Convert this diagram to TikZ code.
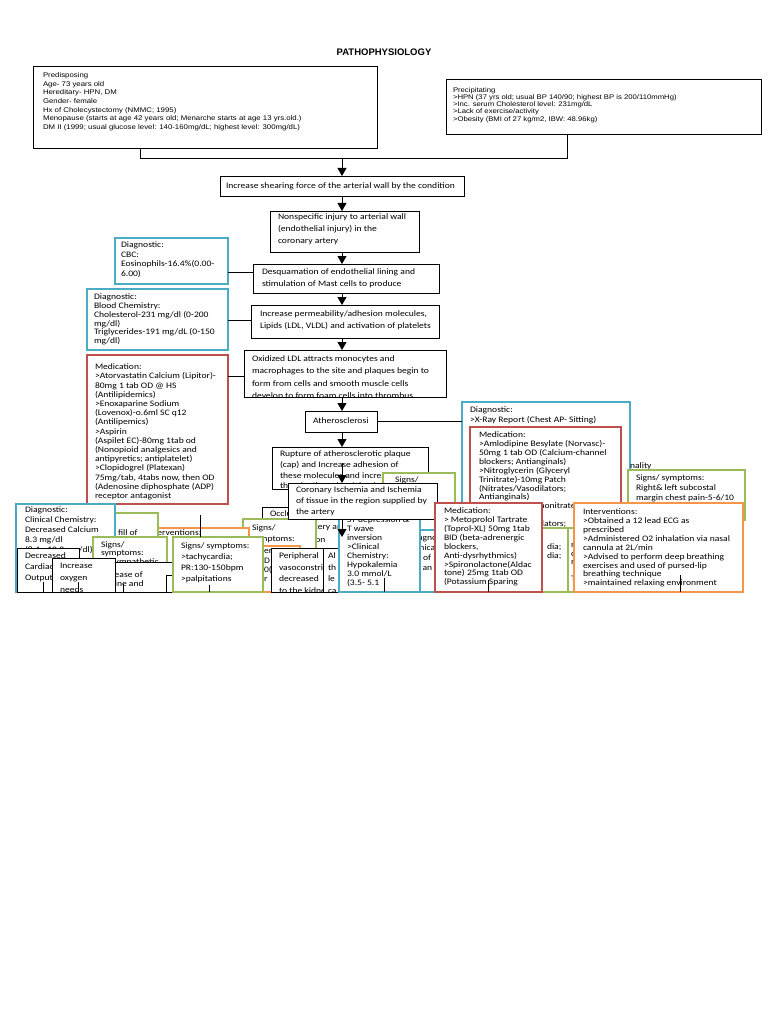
\documentclass[tikz,border=0pt]{standalone}
\usepackage{fontspec}
\setmainfont{Carlito}
\newfontfamily\cf{Carlito}[FakeStretch=1.14]
\newfontfamily\lf{Liberation Sans}[FakeStretch=1.15]
\newfontfamily\lfb{Liberation Sans}
\usetikzlibrary{arrows.meta}
\definecolor{cyb}{HTML}{4BACC6}
\definecolor{rdb}{HTML}{C0504D}
\definecolor{grb}{HTML}{9BBB59}
\definecolor{orb}{HTML}{F79646}
\newcommand\fs[2]{\cf\fontsize{#1}{#2}\selectfont}
\newcommand\lfs[2]{\lf\fontsize{#1}{#2}\selectfont}
\tikzset{
  bk/.style={draw=black, line width=0.9pt},
  cy/.style={draw=cyb, line width=2.6pt},
  rd/.style={draw=rdb, line width=2.8pt},
  gr/.style={draw=grb, line width=2.8pt},
  og/.style={draw=orb, line width=2.8pt},
  tx/.style={anchor=north west, inner sep=0pt, outer sep=0pt, align=left, font=\fs{8.4}{9}},
  conn/.style={draw=black, line width=0.8pt},
  arr/.style={conn, -{Triangle[length=8pt,width=9pt]}},
}
% name, x1, y1, x2, y2, border style, text options, text
\newcommand\mybox[8]{%
  \node[fill=white, draw=none, anchor=north west, inner sep=0pt, outer sep=0pt,
        minimum width={(#4-#2)*1pt}, minimum height={(#5-#3)*1pt}] (#1) at (#2,#3) {};
  \begin{scope}
    \clip (#1.north west) rectangle (#1.south east);
    \node[tx, #7] at (#1.north west) {#8};
  \end{scope}
  \draw[#6] (#1.north west) rectangle (#1.south east);
}
\begin{document}
\begin{tikzpicture}[x=1pt,y=-1pt]
\fill[white] (0,0) rectangle (768,1024);
\useasboundingbox (0,0) rectangle (768,1024);
\node[font=\lfb\bfseries\fontsize{9.5}{11}\selectfont] (title) at (384,52) {PATHOPHYSIOLOGY};

\mybox{pre}{33}{66}{377}{148}{bk}{xshift=10pt,yshift=-6.4pt,font=\lfs{6.8}{8.7}}{Predisposing\\Age- 73 years old\\Hereditary- HPN, DM\\Gender- female\\Hx of Cholecystectomy (NMMC; 1995)\\Menopause (starts at age 42 years old; Menarche starts at age 13 yrs.old.)\\DM II (1999; usual glucose level: 140-160mg/dL; highest level: 300mg/dL)}
\mybox{prec}{446}{79}{761}{134}{bk}{xshift=7pt,yshift=-8.4pt,font=\lfs{6.7}{7.2}}{Precipitating\\>HPN (37 yrs old; usual BP 140/90; highest BP is 200/110mmHg)\\>Inc. serum Cholesterol level: 231mg/dL\\>Lack of exercise/activity\\>Obesity (BMI of 27 kg/m2, IBW: 48.96kg)}

\coordinate (ax) at (342,0);
\coordinate (jn) at (342,158);
\draw[conn] ([xshift=107pt]pre.south west) |- (jn);
\draw[conn] ([xshift=121pt]prec.south west) |- (jn);

\mybox{shear}{220}{176}{464}{196}{bk}{xshift=6pt,yshift=-6.8pt}{Increase shearing force of the arterial wall by the condition}
\draw[arr] (jn) -- (shear.north -| ax);

\mybox{nonspec}{270}{211}{419}{252}{bk}{xshift=8pt,yshift=-2.8pt,font=\fs{8.4}{12}}{Nonspecific injury to arterial wall\\(endothelial injury) in the\\coronary artery}
\draw[arr] (shear.south -| ax) -- (nonspec.north -| ax);

\mybox{desq}{253}{264}{439}{293}{bk}{xshift=9pt,yshift=-4.8pt,font=\fs{8.4}{11.5}}{Desquamation of endothelial lining and\\stimulation of Mast cells to produce}
\draw[arr] (nonspec.south -| ax) -- (desq.north -| ax);

\mybox{cbc}{115}{238}{228}{284}{cy}{xshift=6pt,yshift=-3.8pt,font=\fs{8.4}{9.5}}{Diagnostic:\\CBC:\\Eosinophils-16.4\%(0.00-\\6.00)}
\coordinate (c1) at ([yshift=-34pt]cbc.north east);
\draw[conn] (c1) -- (c1 -| desq.west);

\mybox{perm}{251}{305}{439}{338}{bk}{xshift=9pt,yshift=-5.8pt,font=\fs{8.4}{12}}{Increase permeability/adhesion molecules,\\Lipids (LDL, VLDL) and activation of platelets}
\draw[arr] (desq.south -| ax) -- (perm.north -| ax);

\mybox{blood}{87}{289}{228}{350}{cy}{xshift=7pt,yshift=-4.8pt,font=\fs{8.4}{8.8}}{Diagnostic:\\Blood Chemistry:\\Cholesterol-231 mg/dl (0-200\\mg/dl)\\Triglycerides-191 mg/dL (0-150\\mg/dl)}
\coordinate (c2) at ([yshift=-31pt]blood.north east);
\draw[conn] (c2) -- (c2 -| perm.west);

\mybox{ox}{244}{350}{446}{397}{bk}{xshift=8pt,yshift=-5.8pt,font=\fs{8.4}{12.3}}{Oxidized LDL attracts monocytes and\\macrophages to the site and plaques begin to\\form from cells and smooth muscle cells\\develop to form foam cells into thrombus}
\draw[arr] (perm.south -| ax) -- (ox.north -| ax);

\mybox{medone}{87}{355}{228}{504}{rd}{xshift=8pt,yshift=-8.8pt,font=\fs{8.4}{9.2}}{Medication:\\>Atorvastatin Calcium (Lipitor)-\\80mg 1 tab OD @ HS\\(Antilipidemics)\\>Enoxaparine Sodium\\(Lovenox)-o.6ml SC q12\\(Antilipemics)\\>Aspirin\\(Aspilet EC)-80mg 1tab od\\(Nonopioid analgesics and\\antipyretics; antiplatelet)\\>Clopidogrel (Platexan)\\75mg/tab, 4tabs now, then OD\\(Adenosine diphosphate (ADP)\\receptor antagonist}
\coordinate (c3) at ([yshift=-21pt]medone.north east);
\draw[conn] (c3) -- (c3 -| ox.west);

\mybox{ather}{305}{411}{377}{432}{bk}{xshift=8pt,yshift=-6.8pt}{Atherosclerosi}
\draw[arr] (ox.south -| ax) -- (ather.north -| ax);

\mybox{xray}{462}{402}{630}{530}{cy}{xshift=8pt,yshift=-4.8pt,font=\fs{8.4}{9.5}}{Diagnostic:\\>X-Ray Report (Chest AP- Sitting)}
\node[tx] (xraytail) at (630,462.8) {nality};
\draw[conn] (ather.east) -- (ather.east -| xray.west);

\mybox{amlo}{470}{427}{621}{545}{rd}{xshift=9pt,yshift=-4.8pt,font=\fs{8.4}{8.9}}{Medication:\\>Amlodipine Besylate (Norvasc)-\\50mg 1 tab OD (Calcium-channel\\blockers; Antianginals)\\>Nitroglycerin (Glyceryl\\Trinitrate)-10mg Patch\\(Nitrates/Vasodilators;\\Antianginals)\\>Isosorbide Mononitrate\\\mbox{}\\(Nitrates/Vasodilators;}

\mybox{gfive}{628}{470}{745}{520}{gr}{xshift=8pt,yshift=-4.8pt,font=\fs{8.4}{9.8}}{Signs/ symptoms:\\Right\& left subcostal\\margin chest pain-5-6/10}

\mybox{rupture}{272}{447}{428}{489}{bk}{xshift=8pt,yshift=-3.8pt,font=\fs{8.4}{10.7}}{Rupture of atherosclerotic plaque\\(cap) and Increase adhesion of\\these molecules and increase\\thereby thrombus/platelet formation}
\draw[arr] (ather.south -| ax) -- (rupture.north -| ax);

\mybox{gsign}{383}{473}{455}{533}{gr}{xshift=12pt,yshift=-3.8pt}{Signs/}

\mybox{occl}{262}{507}{360}{560}{bk}{xshift=8pt,yshift=-3.8pt,font=\fs{8.4}{13}}{Occlusion of the\\coronary artery and\\clot formation}

\mybox{gsigntwo}{243}{519}{316}{592}{gr}{xshift=9pt,yshift=-5.8pt,font=\fs{8.4}{11}}{Signs/\\symptoms:}

\mybox{orangetwo}{138}{528}{249}{592}{og}{xshift=9pt,yshift=-1.8pt}{Interventions:}

\mybox{gfill}{60}{513}{158}{592}{gr}{xshift=58pt,yshift=-16.8pt}{fill of}

\mybox{cyancc}{16}{504}{115}{592}{cy}{xshift=9pt,yshift=-2.8pt,font=\fs{8.4}{10}}{Diagnostic:\\Clinical Chemistry:\\Decreased Calcium\\8.3 mg/dl\\(8.4 - 10.2 mg/dl)}

\mybox{gsix}{93}{537}{167}{592}{gr}{xshift=8pt,yshift=-4.8pt,font=\fs{8.4}{8.3}}{Signs/\\symptoms:\\of sympathetic}

\mybox{bkdco}{17}{548}{79}{592}{bk}{xshift=8pt,yshift=-4.8pt,font=\fs{8.4}{11}}{Decreased\\Cardiac\\Output}

\mybox{bkease}{95}{562}{173}{592}{bk}{xshift=5pt,yshift=-9.8pt,font=\fs{8.4}{9}}{Increase of\\\hphantom{Incr}ine and}

\mybox{bkoxy}{52}{558}{115}{592}{bk}{xshift=8pt,yshift=-4.8pt,font=\fs{8.4}{12}}{Increase\\oxygen\\needs}

\mybox{small}{166}{575}{182}{592}{bk}{}{}

\mybox{orangethree}{250}{546}{300}{592}{og}{xshift=14pt,yshift=-3.8pt,font=\fs{8.4}{9.3}}{er\\D\\0(\\r}

\mybox{gtachy}{173}{537}{263}{592}{gr}{xshift=8pt,yshift=-5.8pt,font=\fs{8.4}{11}}{Signs/ symptoms:\\>tachycardia;\\PR:130-150bpm\\>palpitations}

\mybox{bkperi}{271}{548}{323}{592}{bk}{xshift=8pt,yshift=-4.8pt,font=\fs{8.4}{11.5}}{Peripheral\\vasoconstriction\\decreased\\to the kidney}

\mybox{bkalt}{323}{548}{380}{592}{bk}{xshift=5pt,yshift=-4.8pt,font=\fs{8.4}{11.5}}{Al\\th\\le\\ca}

\mybox{cyantwo}{405}{530}{470}{592}{cy}{xshift=5pt,yshift=-4.8pt,font=\fs{8.4}{9.8}}{Diagnostic:\\Clinical\\\hphantom{Lev}of\\\hphantom{Ion}an}

\mybox{ST}{339}{508}{420}{592}{cy}{xshift=8pt,yshift=-8.8pt,font=\fs{8.4}{9}}{ST-depression \&\\T wave\\inversion\\>Clinical\\Chemistry:\\Hypokalemia\\3.0 mmol/L\\(3.5- 5.1}

\mybox{coronary}{288}{483}{437}{519}{bk}{xshift=8pt,yshift=-3.8pt,font=\fs{8.4}{11}}{Coronary Ischemia and Ischemia\\of tissue in the region supplied by\\the artery}

\coordinate (r0) at (rupture.north -| ax);
\draw[arr] ([yshift=-16pt]r0) -- (coronary.north -| ax);
\draw[arr] (coronary.south -| ax) -- ++(0,18);

\mybox{gthree}{500}{528}{568}{592}{gr}{xshift=47pt,yshift=-15.8pt,font=\fs{8.4}{8.5}}{dia;\\dia;}
\mybox{gfour}{568}{528}{610}{592}{gr}{xshift=3pt,yshift=-15.8pt,font=\fs{8.4}{8.3}}{n\\c:\\r\\\mbox{}\\T}

\mybox{redtwo}{435}{503}{542}{592}{rd}{xshift=9pt,yshift=-4.8pt,font=\fs{8.4}{8.9}}{Medication:\\> Metoprolol Tartrate\\(Toprol-XL) 50mg 1tab\\BID (beta-adrenergic\\blockers,\\Anti-dysrhythmics)\\>Spironolactone(Aldac\\tone) 25mg 1tab OD\\(Potassium Sparing}

\mybox{orange}{574}{503}{743}{592}{og}{xshift=9pt,yshift=-5.8pt,font=\fs{8.4}{8.9}}{Interventions:\\>Obtained a 12 lead ECG as\\prescribed\\>Administered O2 inhalation via nasal\\cannula at 2L/min\\>Advised to perform deep breathing\\exercises and used of pursed-lip\\breathing technique\\>maintained relaxing environment}

\draw[conn] ([xshift=26pt]bkdco.south west) -- ++(0,-10);
\draw[conn] ([xshift=26pt]bkoxy.south west) -- ++(0,-10);
\draw[conn] ([xshift=28pt]bkease.south west) -- ++(0,-8);
\draw[conn] ([xshift=27pt]gtachy.north west) -- ++(0,-22);
\draw[conn] ([xshift=36pt]gtachy.south west) -- ++(0,-7);
\draw[conn] ([xshift=45pt]ST.south west) -- ++(0,-14);
\draw[conn] ([xshift=53pt]redtwo.south west) -- ++(0,-12);
\draw[conn] ([xshift=106pt]orange.south west) -- ++(0,-17);
\end{tikzpicture}
\end{document}
